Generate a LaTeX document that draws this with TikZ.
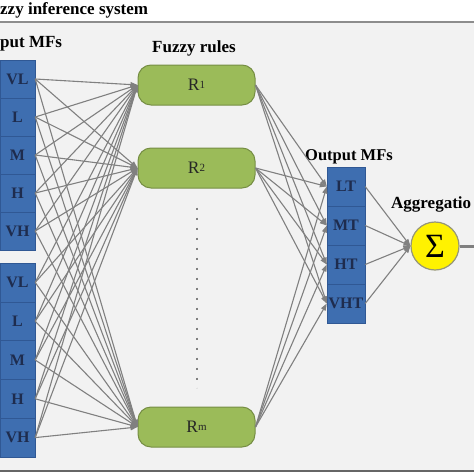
\documentclass[tikz,border=0pt]{standalone}
\usepackage{fontspec}
\setmainfont{Liberation Serif}
\usetikzlibrary{arrows.meta}
\definecolor{cellblue}{RGB}{62,110,176}
\definecolor{cellline}{RGB}{48,88,148}
\definecolor{navytext}{RGB}{30,44,78}
\definecolor{rulegreen}{RGB}{155,187,89}
\definecolor{ruleline}{RGB}{118,142,68}
\definecolor{linkgray}{RGB}{128,128,128}
\definecolor{bggray}{RGB}{242,242,242}
\definecolor{sigline}{RGB}{150,150,120}
\tikzset{
  mf/.style={rectangle,draw=cellline,fill=cellblue,minimum width=35pt,minimum height=38pt,
    inner sep=0pt,text=navytext,font=\fontsize{16}{16}\selectfont\bfseries},
  rulebox/.style={rectangle,rounded corners=13pt,draw=ruleline,line width=1pt,fill=rulegreen,
    minimum width=117pt,minimum height=40pt,inner sep=0pt,text=black!85,font=\fontsize{17.5}{17.5}\selectfont},
  link/.style={draw=linkgray,line width=1.1pt,-{Triangle[length=7pt,width=5pt]}},
  head/.style={inner sep=0pt,font=\fontsize{17}{17}\selectfont\bfseries}
}
\newcommand{\rsub}[1]{R{\fontsize{11}{11}\selectfont\raisebox{2.5pt}{#1}}}
\begin{document}
\begin{tikzpicture}[x=1pt,y=-1pt]
\useasboundingbox (0,0) rectangle (474,474);
\clip (0,0) rectangle (474,474);
% frame and background
\fill[bggray] (0,23) rectangle (474,470);
\draw[linkgray!90,line width=1.2pt] (0,22)--(474,22);
\draw[black!60,line width=2pt] (0,470.5)--(474,470.5);
% headings
\node[head,anchor=base west] (title) at (0,14) {zzy inference system};
\node[head,anchor=base west] (inhead) at (0,47) {put MFs};
\node[head,anchor=base] (rulehead) at (194,52) {Fuzzy rules};
\node[head,anchor=base,font=\fontsize{16.5}{17}\selectfont\bfseries] (outhead) at (349,160) {Output MFs};
\node[head,anchor=base west] (agghead) at (391,208) {Aggregatio};
% input MFs
\foreach \lab [count=\i] in {VL,L,M,H,VH}
  \node[mf] (a\i) at (17.5,41+38*\i) {\lab};
\foreach \lab [count=\i] in {VL,L,M,H,VH}
  \node[mf,minimum height=38.8pt] (b\i) at (17.5,243.6+38.8*\i) {\lab};
% rules
\node[rulebox] (r1) at (196.5,85) {\rsub{1}};
\node[rulebox] (r2) at (196.5,168) {\rsub{2}};
\node[rulebox] (rm) at (196.5,427) {\rsub{m}};
\draw[linkgray,line width=2pt,dash pattern=on 2pt off 8pt,shorten <=19pt,shorten >=19pt] (r2.south)--(rm.north);
% output MFs
\foreach \lab [count=\i] in {LT,MT,HT,VHT}
  \node[mf,minimum width=38pt,minimum height=39pt] (o\i) at (346,147.5+39*\i) {\lab};
% aggregation
\node[circle,draw=sigline,line width=1.2pt,fill=yellow,minimum size=48pt,inner sep=0pt,
  font=\fontsize{34}{34}\selectfont] (sig) at (435,246) {Σ};
\coordinate (out) at (474,246);
% connectors
\foreach \r in {r1,r2,rm}
  \foreach \i in {1,...,5} {
    \draw[link] (a\i.east)--(\r.west);
    \draw[link] (b\i.east)--(\r.west);
  }
\foreach \r in {r1,r2,rm}
  \foreach \i in {1,...,4}
    \draw[link] (\r.east)--(o\i.west);
\foreach \i in {1,...,4}
  \draw[link] (o\i.east)--(sig.west);
\draw[linkgray,line width=3pt] (sig.east)--(out);
\end{tikzpicture}
\end{document}
